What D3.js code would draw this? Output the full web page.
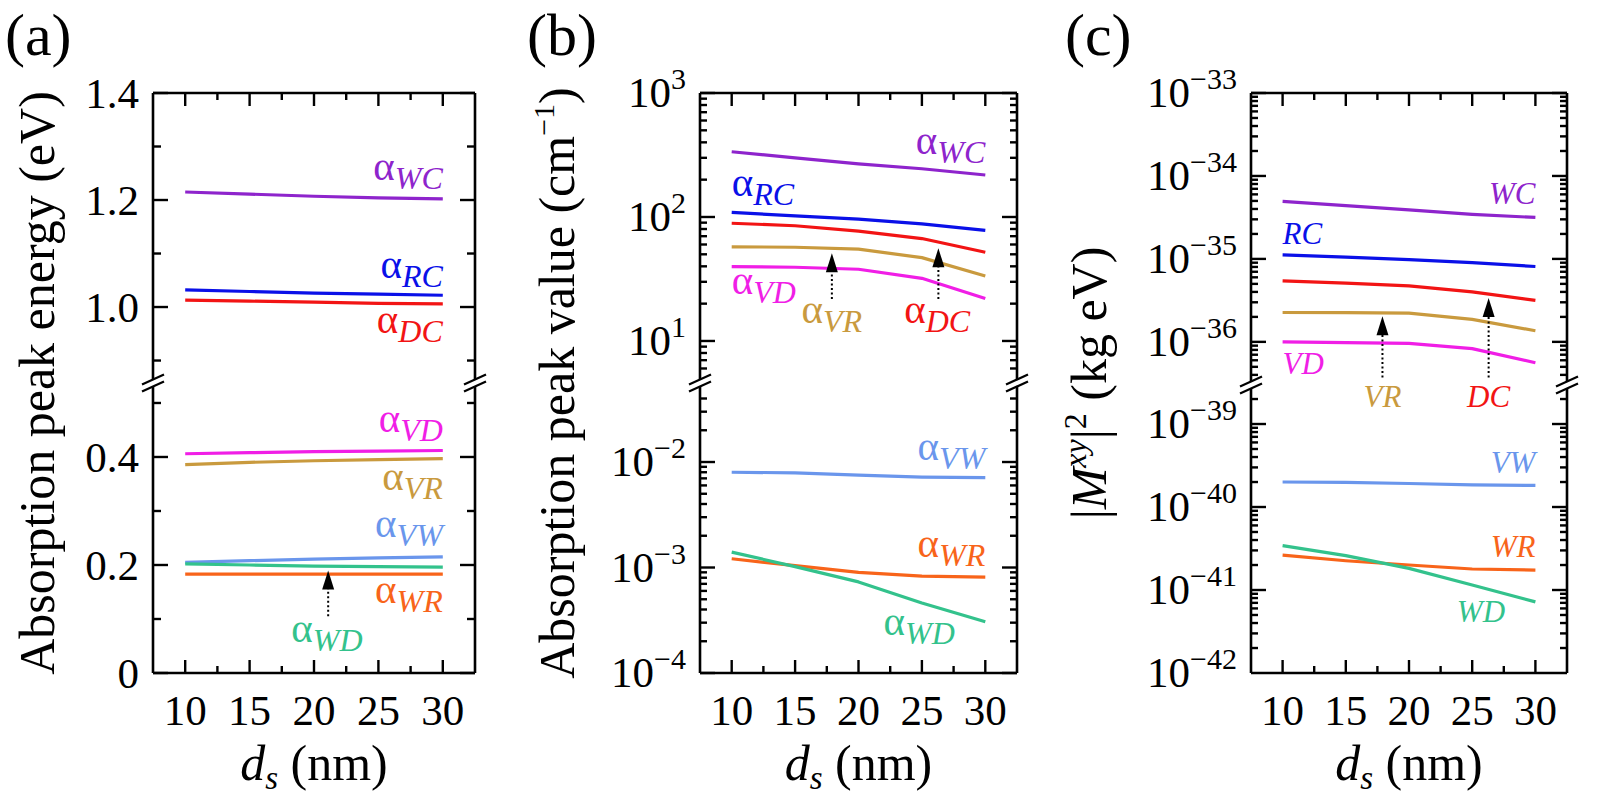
<!DOCTYPE html>
<html>
<head>
<meta charset="utf-8">
<script src="https://cdn.jsdelivr.net/npm/d3@7"></script>
<style>
  body { margin: 0; background: #fff; }
  svg { display: block; font-family: "Liberation Serif", "Times New Roman", Tinos, serif; }
</style>
</head>
<body>
<svg width="1600" height="806"></svg>
<script>
const width = 1600, height = 806;
const svg = d3.select("svg");

// x values (d_s in nm) shared by every curve
const dsValues = [10, 15, 20, 25, 30];
const xTickLabels = [10, 15, 20, 25, 30];

// (a) absorption peak energy (eV)
const energyWC = [1.215, 1.211, 1.207, 1.204, 1.202];
const energyRC = [1.032, 1.029, 1.026, 1.024, 1.022];
const energyDC = [1.013, 1.011, 1.009, 1.007, 1.006];
const energyVD = [0.406, 0.408, 0.410, 0.411, 0.412];
const energyVR = [0.386, 0.390, 0.393, 0.395, 0.397];
const energyVW = [0.205, 0.208, 0.211, 0.213, 0.215];
const energyWD = [0.202, 0.200, 0.198, 0.197, 0.196];
const energyWR = [0.183, 0.183, 0.183, 0.183, 0.183];
const energyTicksUpper = [1.0, 1.2, 1.4];
const energyTicksLower = [0, 0.2, 0.4];

// (b) absorption peak value (cm^-1)
const peakWC = [336, 300, 268, 245, 218];
const peakRC = [109, 102, 96, 88, 78];
const peakDC = [89, 85, 77, 67, 52];
const peakVR = [57.5, 57, 55, 47, 33.4];
const peakVD = [39.8, 39.3, 37.9, 32, 22];
const peakVW = [8.0e-3, 7.9e-3, 7.5e-3, 7.2e-3, 7.1e-3];
const peakWR = [1.21e-3, 1.04e-3, 0.90e-3, 0.83e-3, 0.81e-3];
const peakWD = [1.40e-3, 1.02e-3, 7.3e-4, 4.6e-4, 3.06e-4];
const peakTicksUpper = [1, 2, 3];       // exponents
const peakTicksLower = [-4, -3, -2];

// (c) |M^xy|^2 (kg eV)
const momWC = [4.94e-35, 4.4e-35, 3.9e-35, 3.45e-35, 3.16e-35];
const momRC = [1.12e-35, 1.05e-35, 9.8e-36, 9.0e-36, 8.1e-36];
const momDC = [5.44e-36, 5.1e-36, 4.73e-36, 4.0e-36, 3.16e-36];
const momVR = [2.26e-36, 2.25e-36, 2.22e-36, 1.87e-36, 1.36e-36];
const momVD = [1.0e-36, 9.8e-37, 9.6e-37, 8.3e-37, 5.6e-37];
const momVW = [2.0e-40, 1.98e-40, 1.92e-40, 1.85e-40, 1.82e-40];
const momWR = [2.63e-41, 2.25e-41, 2.0e-41, 1.79e-41, 1.74e-41];
const momWD = [3.42e-41, 2.6e-41, 1.82e-41, 1.15e-41, 7.2e-42];
const momTicksUpper = [-36, -35, -34, -33];
const momTicksLower = [-42, -41, -40, -39];

const colors = {
    WC: "#8e24cc", RC: "#0a10e8", DC: "#f21414", VD: "#f01ee6",
    VR: "#c99a3e", VW: "#6a96ec", WD: "#33c28c", WR: "#f8641a"
};

const frameTop = 93, frameBottom = 673;

const panels = [
    {
        letter: "(a)", letterX: 5, left: 153, right: 475, brk: 383, log: false,
        upper: [0.858, 1.4], lower: [0, 0.537],
        ticksUpper: energyTicksUpper, ticksLower: energyTicksLower,
        series: { WC: energyWC, RC: energyRC, DC: energyDC, VD: energyVD,
                  VR: energyVR, VW: energyVW, WD: energyWD, WR: energyWR },
        alpha: true,
        labels: [
            ["WC", 30, 1.237, "end", "u"], ["RC", 30, 1.054, "end", "u"],
            ["DC", 30, 0.951, "end", "u"], ["VD", 30, 0.447, "end", "l"],
            ["VR", 30, 0.338, "end", "l"], ["VW", 30, 0.252, "end", "l"],
            ["WR", 30, 0.129, "end", "l"], ["WD", 21.0, 0.058, "middle", "l"]
        ],
        arrows: [[21.1, 0.105, 0.19, "l"]],
        titleX: 54
    },
    {
        letter: "(b)", letterX: 527, left: 700, right: 1017, brk: 383, log: true,
        upper: [Math.pow(10, 0.661), 1e3], lower: [1e-4, Math.pow(10, -1.251)],
        ticksUpper: peakTicksUpper, ticksLower: peakTicksLower,
        series: { WC: peakWC, RC: peakRC, DC: peakDC, VR: peakVR,
                  VD: peakVD, VW: peakVW, WR: peakWR, WD: peakWD },
        alpha: true,
        labels: [
            ["WC", 30, Math.pow(10, 2.508), "end", "u"], ["RC", 10, 148, "start", "u"],
            ["VD", 10, 23.9, "start", "u"], ["VR", 17.9, 14, "middle", "u"],
            ["DC", 26.2, 14, "middle", "u"], ["VW", 30, 0.0105, "end", "l"],
            ["WR", 30, 1.26e-3, "end", "l"], ["WD", 27.6, 2.3e-4, "end", "l"]
        ],
        arrows: [[17.9, 21.8, 51, "u"], [26.3, 21.8, 56, "u"]],
        titleX: 574
    },
    {
        letter: "(c)", letterX: 1065, left: 1251, right: 1567, brk: 385, log: true,
        upper: [Math.pow(10, -36.52), 1e-33], lower: [1e-42, Math.pow(10, -38.53)],
        ticksUpper: momTicksUpper, ticksLower: momTicksLower,
        series: { WC: momWC, RC: momRC, DC: momDC, VR: momVR,
                  VD: momVD, VW: momVW, WR: momWR, WD: momWD },
        alpha: false,
        labels: [
            ["WC", 30, Math.pow(10, -34.34), "end", "u"], ["RC", 10, Math.pow(10, -34.82), "start", "u"],
            ["VD", 10, Math.pow(10, -36.39), "start", "u"], ["VR", 17.9, Math.pow(10, -38.8), "middle", "l"],
            ["DC", 26.3, Math.pow(10, -38.8), "middle", "l"], ["VW", 30, Math.pow(10, -39.59), "end", "l"],
            ["WR", 30, Math.pow(10, -40.6), "end", "l"], ["WD", 27.6, Math.pow(10, -41.39), "end", "l"]
        ],
        arrows: [[17.9, Math.pow(10, -36.43), Math.pow(10, -35.69), "u"],
                 [26.3, Math.pow(10, -36.43), Math.pow(10, -35.47), "u"]],
        titleX: 1106
    }
];

const tickFont = 43, majorLen = 13, minorLen = 7;

panels.forEach((p, pi) => {
    const g = svg.append("g");
    const x = d3.scaleLinear().domain([7.5, 32.5]).range([p.left, p.right]);
    const mk = p.log ? d3.scaleLog : d3.scaleLinear;
    const yU = mk().domain(p.upper).range([p.brk, frameTop]);
    const yL = mk().domain(p.lower).range([frameBottom, p.brk]);
    const yOf = seg => seg === "u" ? yU : yL;

    // frame with gaps at the break
    const gap = 3.5;
    const frame = d3.path();
    frame.moveTo(p.left, frameTop); frame.lineTo(p.right, frameTop);
    frame.moveTo(p.left, frameBottom); frame.lineTo(p.right, frameBottom);
    [p.left, p.right].forEach(ex => {
        frame.moveTo(ex, frameTop); frame.lineTo(ex, p.brk - gap);
        frame.moveTo(ex, p.brk + gap); frame.lineTo(ex, frameBottom);
    });
    g.append("path").attr("d", frame.toString())
        .attr("fill", "none").attr("stroke", "#000").attr("stroke-width", 2.6);

    // break marks
    [p.left, p.right].forEach(ex => {
        [-gap, gap].forEach(o => {
            g.append("line")
                .attr("x1", ex - 11).attr("y1", p.brk + o + 5)
                .attr("x2", ex + 11).attr("y2", p.brk + o - 5)
                .attr("stroke", "#000").attr("stroke-width", 2.2);
        });
    });

    // x ticks, bottom and top
    const xt = d3.range(10, 30.01, 2.5);
    xt.forEach(v => {
        const len = v % 5 === 0 ? majorLen : minorLen;
        const px = x(v);
        g.append("line").attr("x1", px).attr("x2", px)
            .attr("y1", frameBottom).attr("y2", frameBottom - len)
            .attr("stroke", "#000").attr("stroke-width", 2.4);
        g.append("line").attr("x1", px).attr("x2", px)
            .attr("y1", frameTop).attr("y2", frameTop + len)
            .attr("stroke", "#000").attr("stroke-width", 2.4);
    });
    xTickLabels.forEach(v => {
        g.append("text").attr("x", x(v)).attr("y", 725)
            .attr("text-anchor", "middle").attr("font-size", tickFont).text(v);
    });

    // y ticks (both sides)
    const drawYTick = (py, len) => {
        if (Math.abs(py - p.brk) < 7) return;
        g.append("line").attr("x1", p.left).attr("x2", p.left + len)
            .attr("y1", py).attr("y2", py).attr("stroke", "#000").attr("stroke-width", 2.4);
        g.append("line").attr("x1", p.right).attr("x2", p.right - len)
            .attr("y1", py).attr("y2", py).attr("stroke", "#000").attr("stroke-width", 2.4);
    };
    [yU, yL].forEach(s => {
        if (p.log) {
            s.ticks().forEach(v => {
                const e = Math.log10(v);
                const major = Math.abs(e - Math.round(e)) < 1e-6;
                drawYTick(s(v), major ? majorLen + 2 : minorLen);
            });
        } else {
            s.ticks(5).forEach(v => {
                const major = Math.round(v * 10) % 2 === 0;
                drawYTick(s(v), major ? majorLen + 2 : minorLen + 1);
            });
        }
    });

    // y tick labels
    const labelX = p.left - 14;
    const yLabel = (s, v) => {
        if (p.log) {
            const t = g.append("text").attr("x", labelX)
                .attr("y", s(Math.pow(10, v)) + 14)
                .attr("text-anchor", "end").attr("font-size", tickFont);
            t.append("tspan").text("10");
            t.append("tspan").attr("dy", -18).attr("font-size", 30)
                .text(v < 0 ? "\u2212" + Math.abs(v) : v);
        } else {
            g.append("text").attr("x", labelX).attr("y", s(v) + 15)
                .attr("text-anchor", "end").attr("font-size", tickFont)
                .text(v === 0 ? "0" : d3.format(".1f")(v));
        }
    };
    p.ticksUpper.forEach(v => yLabel(yU, v));
    p.ticksLower.forEach(v => yLabel(yL, v));

    // curves
    const upperMin = p.upper[0];
    Object.entries(p.series).forEach(([key, vals]) => {
        const s = vals[0] >= upperMin ? yU : yL;
        const line = d3.line().x((d, i) => x(dsValues[i])).y(d => s(d));
        g.append("path").datum(vals).attr("d", line)
            .attr("fill", "none").attr("stroke", colors[key])
            .attr("stroke-width", 3.2).attr("stroke-linejoin", "round");
    });

    // curve labels
    p.labels.forEach(([key, lx, ly, anchor, seg]) => {
        const t = g.append("text").attr("x", x(lx)).attr("y", yOf(seg)(ly))
            .attr("text-anchor", anchor).attr("fill", colors[key]);
        if (p.alpha) {
            t.append("tspan").attr("font-size", 41).text("\u03b1");
            t.append("tspan").attr("font-size", 32).attr("font-style", "italic")
                .attr("dy", 9).text(key);
        } else {
            t.attr("font-size", 31).attr("font-style", "italic").text(key);
        }
    });

    // dotted arrows
    p.arrows.forEach(([ax, tail, tip, seg]) => {
        const s = yOf(seg);
        const px = x(ax), pTail = s(tail), pTip = s(tip);
        g.append("line").attr("x1", px).attr("x2", px)
            .attr("y1", pTail).attr("y2", pTip + 17)
            .attr("stroke", "#000").attr("stroke-width", 2)
            .attr("stroke-dasharray", "2,2.5");
        g.append("path")
            .attr("d", `M${px},${pTip} L${px - 6},${pTip + 19} L${px + 6},${pTip + 19} Z`)
            .attr("fill", "#000");
    });

    // panel letter
    g.append("text").attr("x", p.letterX).attr("y", 55)
        .attr("font-size", 60).text(p.letter);

    // x title
    const xt2 = g.append("text").attr("x", (p.left + p.right) / 2).attr("y", 780)
        .attr("text-anchor", "middle").attr("font-size", 50);
    xt2.append("tspan").attr("font-style", "italic").text("d");
    xt2.append("tspan").attr("font-style", "italic").attr("font-size", 33).attr("dy", 9).text("s");
    xt2.append("tspan").attr("dy", -9).text(" (nm)");

    // y title
    const yt = g.append("text")
        .attr("transform", `translate(${p.titleX},${(frameTop + frameBottom) / 2}) rotate(-90)`)
        .attr("text-anchor", "middle").attr("font-size", 50);
    if (pi === 0) {
        yt.text("Absorption peak energy (eV)");
    } else if (pi === 1) {
        yt.append("tspan").text("Absorption peak value (cm");
        yt.append("tspan").attr("font-size", 30).attr("dy", -20).text("\u22121");
        yt.append("tspan").attr("dy", 20).text(")");
    } else {
        yt.append("tspan").text("|");
        yt.append("tspan").attr("font-style", "italic").text("M");
        yt.append("tspan").attr("font-style", "italic").attr("font-size", 32).attr("dy", -20).text("xy");
        yt.append("tspan").attr("dy", 20).text("|");
        yt.append("tspan").attr("font-size", 32).attr("dy", -20).text("2");
        yt.append("tspan").attr("dy", 20).text(" (kg eV)");
    }
});
</script>
</body>
</html>
